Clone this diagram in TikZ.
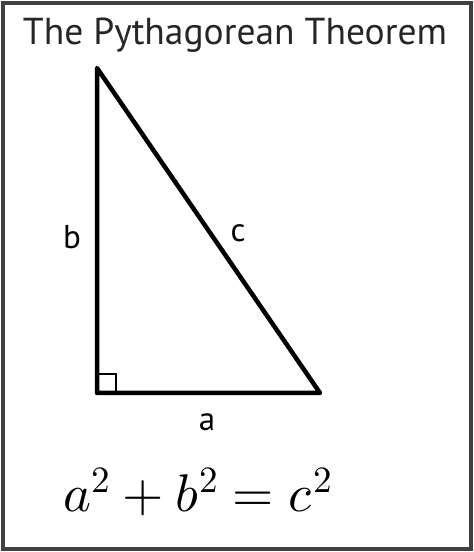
\documentclass[tikz,border=0pt]{standalone}
\usepackage{fontspec}
\usepackage{unicode-math}
\setmainfont{PT Sans}

\begin{document}
\begin{tikzpicture}[x=1pt,y=1pt,
  side/.style={line width=4.5pt,line join=round},
  lbl/.style={font=\fontsize{33}{35}\selectfont,inner sep=0pt}]
\useasboundingbox (0,0) rectangle (474,552);
\draw[line width=4pt,black!75] (3,3) rectangle (471,549);
\node[text=black!85] (title) at (235,517) {\fontsize{37.5}{40}\selectfont The Pythagorean Theorem};
\coordinate (top) at (97,484);
\coordinate (corner) at (97,159);
\coordinate (right) at (320,159);
\draw[side] (top) -- (corner) -- (right) -- cycle;
\draw[line width=1.6pt] (corner) ++(19,0) |- ++(-19,19);
\node[lbl] (b) at (72,315) {b};
\node[lbl] (c) at (238,319) {c};
\node[lbl] (a) at (207,130) {a};
\node[anchor=base] (law) at (198,40) {\fontsize{53}{56}\selectfont $a^2+b^2=c^2$};
\end{tikzpicture}
\end{document}
